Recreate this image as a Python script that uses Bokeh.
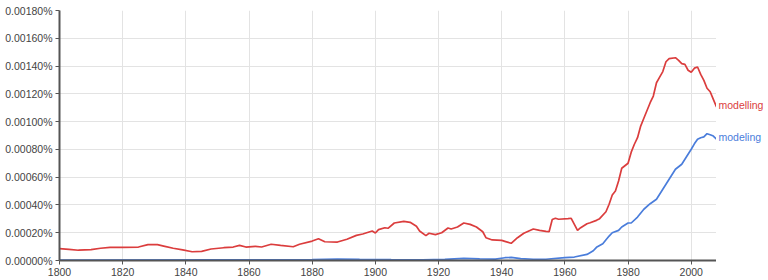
from bokeh.plotting import figure
from bokeh.layouts import row
from bokeh.models import Range1d, FixedTicker
from bokeh.core.properties import value
from bokeh.embed import file_html
from bokeh.resources import INLINE

# ---- data (values in percent) ----
modelling_years = [1800, 1803, 1806, 1808, 1810, 1813, 1816, 1820, 1825, 1828, 1831, 1833,
                   1836, 1839, 1842, 1845, 1848, 1852, 1855, 1857, 1859, 1862, 1864, 1867,
                   1870, 1874, 1876, 1880, 1882, 1884, 1888, 1891, 1894, 1896, 1899, 1900,
                   1901, 1903, 1904, 1906, 1909, 1911, 1913, 1914, 1916, 1917, 1919, 1921,
                   1923, 1924, 1926, 1928, 1930, 1932, 1934, 1935, 1937, 1940, 1941, 1943,
                   1945, 1947, 1950, 1952, 1954, 1955, 1956, 1957, 1958, 1961, 1962, 1964,
                   1965, 1967, 1968, 1970, 1971, 1973, 1974, 1975, 1976, 1977, 1978, 1980,
                   1981, 1982, 1983, 1984, 1985, 1987, 1988, 1989, 1990, 1991, 1992, 1993,
                   1995, 1996, 1997, 1998, 1999, 2000, 2001, 2002, 2003, 2004, 2005, 2006,
                   2007, 2008]
modelling_values = [0.000085, 0.000080, 0.000074, 0.000076, 0.000078, 0.000088, 0.000095,
                    0.000095, 0.000097, 0.000114, 0.000114, 0.000104, 0.000088, 0.000076,
                    0.000063, 0.000066, 0.000083, 0.000092, 0.000097, 0.000109, 0.000097,
                    0.000102, 0.000097, 0.000117, 0.000109, 0.000099, 0.000117, 0.000140,
                    0.000157, 0.000135, 0.000133, 0.000153, 0.000181, 0.000191, 0.000212,
                    0.000198, 0.000222, 0.000236, 0.000232, 0.000270, 0.000282, 0.000275,
                    0.000246, 0.000212, 0.000179, 0.000196, 0.000186, 0.000200, 0.000234,
                    0.000227, 0.000241, 0.000270, 0.000260, 0.000241, 0.000207, 0.000164,
                    0.000148, 0.000145, 0.000138, 0.000124, 0.000164, 0.000196, 0.000227,
                    0.000217, 0.000210, 0.000207, 0.000295, 0.000304, 0.000297, 0.000301,
                    0.000304, 0.000217, 0.000236, 0.000265, 0.000272, 0.000289, 0.000301,
                    0.000351, 0.000405, 0.000472, 0.000500, 0.000572, 0.000664, 0.000700,
                    0.000780, 0.000837, 0.000884, 0.000968, 0.001024, 0.001136, 0.001184,
                    0.001280, 0.001320, 0.001360, 0.001431, 0.001453, 0.001460, 0.001441,
                    0.001417, 0.001412, 0.001370, 0.001355, 0.001385, 0.001393, 0.001340,
                    0.001297, 0.001240, 0.001215, 0.001160, 0.001105]

modeling_years = [1800, 1850, 1880, 1888, 1895, 1905, 1915, 1922, 1928, 1933, 1938, 1941,
                  1943, 1946, 1950, 1954, 1960, 1963, 1967, 1969, 1970, 1972, 1974, 1975,
                  1977, 1978, 1980, 1981, 1983, 1985, 1987, 1989, 1991, 1993, 1995, 1997,
                  1999, 2000, 2001, 2002, 2003, 2004, 2005, 2006, 2007, 2008]
modeling_values = [0.000003, 0.000004, 0.000006, 0.000010, 0.000008, 0.000006, 0.000005,
                   0.000008, 0.000016, 0.000012, 0.000010, 0.000020, 0.000022, 0.000013,
                   0.000009, 0.000009, 0.000020, 0.000025, 0.000044, 0.000070, 0.000095,
                   0.000121, 0.000176, 0.000200, 0.000217, 0.000241, 0.000270, 0.000270,
                   0.000313, 0.000369, 0.000409, 0.000441, 0.000513, 0.000585, 0.000657,
                   0.000693, 0.000765, 0.000801, 0.000840, 0.000873, 0.000884, 0.000890,
                   0.000913, 0.000905, 0.000896, 0.000873]

series_names = ["modelling", "modeling"]
series_colors = ["#db3d3d", "#4a7ddb"]

x_ticks = [1800, 1820, 1840, 1860, 1880, 1900, 1920, 1940, 1960, 1980, 2000]
x_tick_labels = ["1800", "1820", "1840", "1860", "1880", "1900", "1920", "1940", "1960", "1980", "2000"]
y_ticks = [0.0, 0.0002, 0.0004, 0.0006, 0.0008, 0.0010, 0.0012, 0.0014, 0.0016, 0.0018]
y_tick_labels = ["0.00000%", "0.00020%", "0.00040%", "0.00060%", "0.00080%", "0.00100%",
                 "0.00120%", "0.00140%", "0.00160%", "0.00180%"]

FONT = "Liberation Sans"

y_range = Range1d(0, 0.0018)

p = figure(width=716, height=280, output_backend="svg", toolbar_location=None,
           x_range=Range1d(1800, 2008), y_range=y_range,
           min_border_left=59, min_border_right=0, min_border_top=10, min_border_bottom=20)
p.outline_line_color = None
p.background_fill_color = "white"

p.xaxis.ticker = FixedTicker(ticks=x_ticks)
p.xaxis.major_label_overrides = {t: l for t, l in zip(x_ticks, x_tick_labels)}
p.yaxis.ticker = FixedTicker(ticks=y_ticks)
p.yaxis.major_label_overrides = {t: l for t, l in zip(y_ticks, y_tick_labels)}

for ax in (p.xaxis[0], p.yaxis[0]):
    ax.axis_line_color = "#555555"
    ax.axis_line_width = 2
    ax.major_tick_line_color = "#555555"
    ax.major_tick_line_width = 1
    ax.major_tick_in = 0
    ax.major_tick_out = 4
    ax.minor_tick_line_color = None
    ax.major_label_text_font = FONT
    ax.major_label_text_font_size = "10.5px"
    ax.major_label_text_color = "#444444"
    ax.major_label_standoff = 3

p.xgrid.grid_line_color = "#e3e3e3"
p.ygrid.grid_line_color = "#e3e3e3"
p.xgrid.ticker = FixedTicker(ticks=x_ticks)
p.ygrid.ticker = FixedTicker(ticks=y_ticks)

p.line(modelling_years, modelling_values, line_color=series_colors[0], line_width=1.7)
p.line(modeling_years, modeling_values, line_color=series_colors[1], line_width=1.7)

# side panel for end-of-line series labels
p2 = figure(width=52, height=280, output_backend="svg", toolbar_location=None,
            x_range=Range1d(0, 52), y_range=y_range,
            min_border_left=0, min_border_right=0, min_border_top=10, min_border_bottom=20)
p2.axis.visible = False
p2.grid.visible = False
p2.outline_line_color = None
p2.text(x=[2, 2], y=[modelling_values[-1], modeling_values[-1]], text=series_names,
        text_color=series_colors, text_baseline="middle", text_align="left",
        text_font=value(FONT), text_font_size=value("10.5px"), y_offset=-2)

layout = row(p, p2, spacing=0)
open("out.html", "w").write(file_html(layout, INLINE))
